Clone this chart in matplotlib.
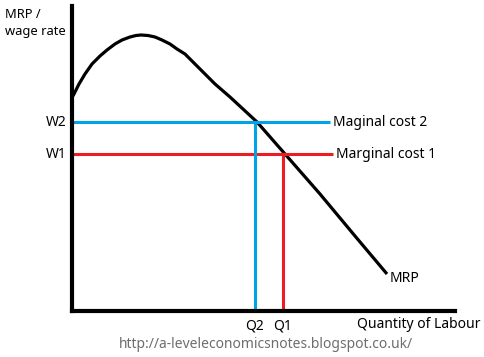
import matplotlib.pyplot as plt

plt.rcParams["font.family"] = ["Noto Sans", "DejaVu Sans"]

# MRP curve (quantity of labour, wage)
mrp_q = [1, 7, 13, 20, 28, 35, 43, 50, 58, 64, 69, 76, 83, 90, 98, 105,
         113, 120, 128, 143, 158, 185, 213, 248, 283, 315]
mrp_w = [215, 227, 237, 247, 255, 261, 267, 271, 274, 275.5, 276, 275.5, 274, 271, 267, 262,
         257, 250, 242, 227, 214, 189, 157, 117, 75, 37]

wages = [157, 189]          # W1, W2
quantities = [211, 183]     # Q1, Q2
cost_ends = [261, 258]      # where the marginal cost lines stop
wage_labels = ["W1", "W2"]
q_labels = ["Q1", "Q2"]
cost_labels = ["Marginal cost 1", "Maginal cost 2"]
colors = ["#ed1c24", "#00a2e8"]

W, H = 485, 357
fs = 10
fig = plt.figure(figsize=(W / 100, H / 100), dpi=100)
ax = fig.add_axes([72 / W, (H - 311) / H, 383 / W, 305 / H])
ax.set_xlim(0, 383)
ax.set_ylim(0, 305)
for s in ["top", "right"]:
    ax.spines[s].set_visible(False)
for s in ["left", "bottom"]:
    ax.spines[s].set_linewidth(3)
ax.set_xticks([])
ax.set_yticks([])

ax.plot(mrp_q, mrp_w, color="black", lw=2.3, solid_capstyle="butt")

for w, q, end, c, wl, ql, cl in zip(wages, quantities, cost_ends, colors,
                                    wage_labels, q_labels, cost_labels):
    ax.plot([0, end], [w, w], color=c, lw=2.2, solid_capstyle="butt")
    ax.plot([q, q], [0, w], color=c, lw=2.2, solid_capstyle="butt")
    ax.text(-5, w, wl, ha="right", va="center", fontsize=fs, clip_on=False)
    ax.text(q, -8, ql, ha="center", va="top", fontsize=fs, clip_on=False)
    ax.text(end + 3, w, cl, ha="left", va="center", fontsize=fs, clip_on=False)

ax.text(mrp_q[-1] + 3, mrp_w[-1] - 4, "MRP", ha="left", va="center", fontsize=fs)
fig.text(5 / W, 1 - 15 / H, "MRP /", ha="left", va="center", fontsize=9.3)
fig.text(5 / W, 1 - 31 / H, "wage rate", ha="left", va="center", fontsize=9.3)
fig.text(481 / W, 1 - 324 / H, "Quantity of Labour", ha="right", va="center", fontsize=fs)
fig.text(266 / W, 1 - 345 / H, "http://a-leveleconomicsnotes.blogspot.co.uk/",
         ha="center", va="center", fontsize=fs, color="#6e6e6e")

fig.savefig("out.png", dpi=100)
